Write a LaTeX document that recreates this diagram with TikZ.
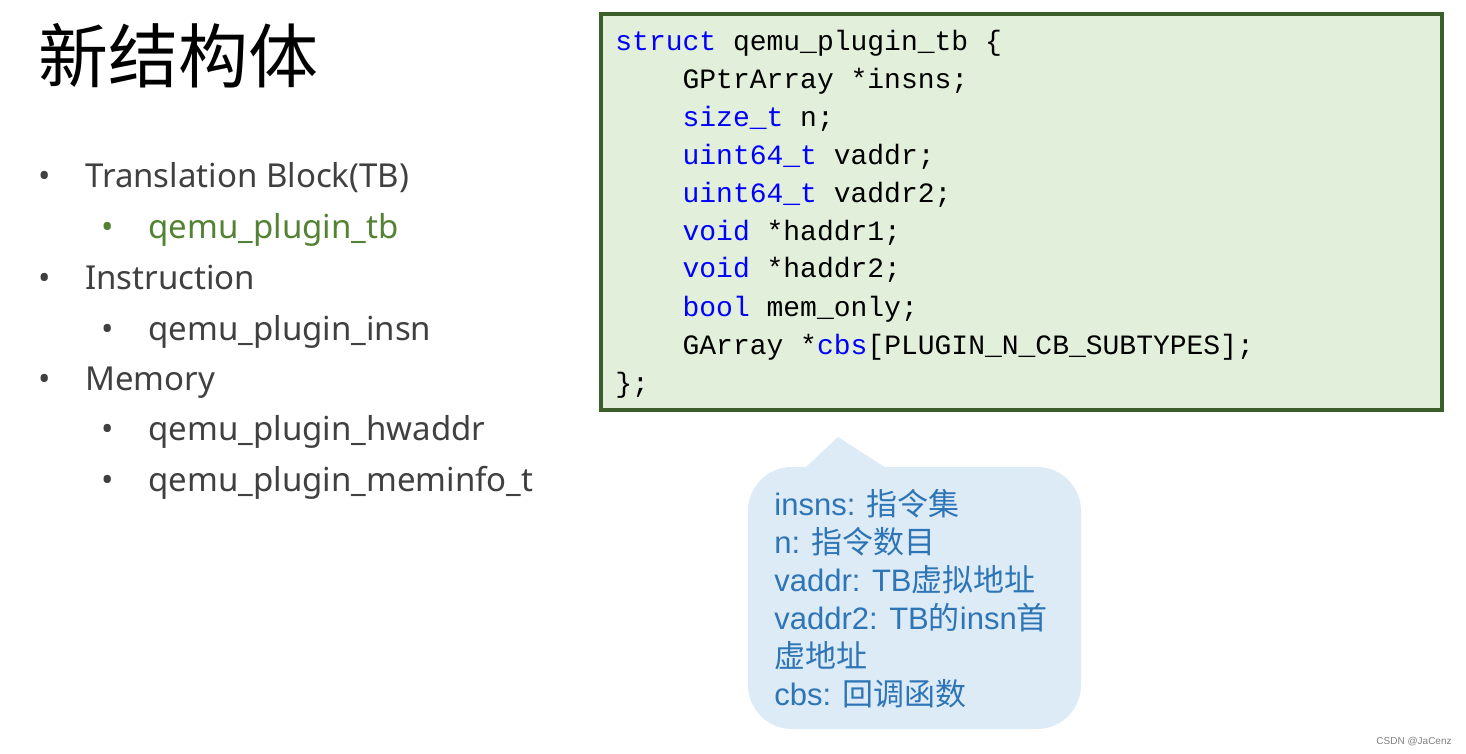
\documentclass[tikz,border=0pt]{standalone}
\usepackage{fontspec}
\setmainfont{Noto Sans}
\setmonofont{Liberation Mono}
\newfontfamily\cjk{Noto Sans CJK SC}
\newfontfamily\arl{Liberation Sans}
\definecolor{codebg}{HTML}{E2EFDA}
\definecolor{codeframe}{HTML}{3B5F2B}
\definecolor{kw}{HTML}{0000FF}
\definecolor{gtxt}{HTML}{404040}
\definecolor{grn}{HTML}{548235}
\definecolor{callbg}{HTML}{DDEBF7}
\definecolor{calltxt}{HTML}{2E75B6}
\newcommand{\kwd}[1]{\textcolor{kw}{#1}}
\begin{document}
\begin{tikzpicture}[x=0.5pt,y=-0.5pt,
  bul/.style={anchor=base west,font=\fontsize{16.5}{20}\selectfont,text=gtxt,inner sep=0},
  code/.style={anchor=base west,font=\ttfamily\fontsize{14}{16}\selectfont,inner sep=0},
  call/.style={anchor=base west,font=\arl\fontsize{15.5}{17}\selectfont,text=calltxt,inner sep=0}]
\useasboundingbox[fill=white] (0,0) rectangle (1466,754);
\node[anchor=base west,inner sep=0,font=\cjk\fontsize{35}{37}\selectfont] (title) at (38,83) {新结构体};
% bullets
\foreach \y/\t/\n in {188/Translation Block(TB)/b1,289/Instruction/b2,390/Memory/b3}{
  \node[bul] (\n d) at (38,\y) {•};
  \node[bul] (\n) at (85,\y) {\t};}
\node[bul,text=grn] (s1d) at (101,239) {•};
\node[bul,text=grn,font=\bfseries\fontsize{16.5}{20}\selectfont] (s1) at (148,239) {qemu\_plugin\_tb};
\foreach \y/\t/\n in {340/qemu\_plugin\_insn/s2,440/qemu\_plugin\_hwaddr/s3,491/qemu\_plugin\_meminfo\_t/s4}{
  \node[bul] (\n d) at (101,\y) {•};
  \node[bul] (\n) at (148,\y) {\t};}
% code box
\draw[codeframe,line width=1.6pt,fill=codebg] (601,14) rectangle (1442,410);
\node[code] (c1) at (615,51) {\kwd{struct} qemu\_plugin\_tb \{};
\node[code] (c2) at (615,89) {\ \ \ \ GPtrArray *insns;};
\node[code] (c3) at (615,127) {\ \ \ \ \kwd{size\_t} n;};
\node[code] (c4) at (615,165) {\ \ \ \ \kwd{uint64\_t} vaddr;};
\node[code] (c5) at (615,203) {\ \ \ \ \kwd{uint64\_t} vaddr2;};
\node[code] (c6) at (615,241) {\ \ \ \ \kwd{void} *haddr1;};
\node[code] (c7) at (615,278) {\ \ \ \ \kwd{void} *haddr2;};
\node[code] (c8) at (615,316) {\ \ \ \ \kwd{bool} mem\_only;};
\node[code] (c9) at (615,354) {\ \ \ \ GArray *\kwd{cbs}[PLUGIN\_N\_CB\_SUBTYPES];};
\node[code] (c10) at (615,392) {\};};
% callout
\fill[callbg] (805,468) -- (838,437) -- (886,468) -- cycle;
\fill[callbg,rounded corners=22pt] (748,467) rectangle (1081,729);
\node[call] (t1) at (774,515) {insns: {\cjk 指令集}};
\node[call] (t2) at (774,553) {n: {\cjk 指令数目}};
\node[call] (t3) at (774,591) {vaddr: TB{\cjk 虚拟地址}};
\node[call] (t4) at (774,629) {vaddr2: TB{\cjk 的}insn{\cjk 首}};
\node[call] (t5) at (774,667) {{\cjk 虚地址}};
\node[call] (t6) at (774,705) {cbs: {\cjk 回调函数}};
\node[anchor=base east,inner sep=0,text=gray,font=\arl\fontsize{5}{6}\selectfont] (wm) at (1452,744) {CSDN @JaCenz};
\end{tikzpicture}
\end{document}
